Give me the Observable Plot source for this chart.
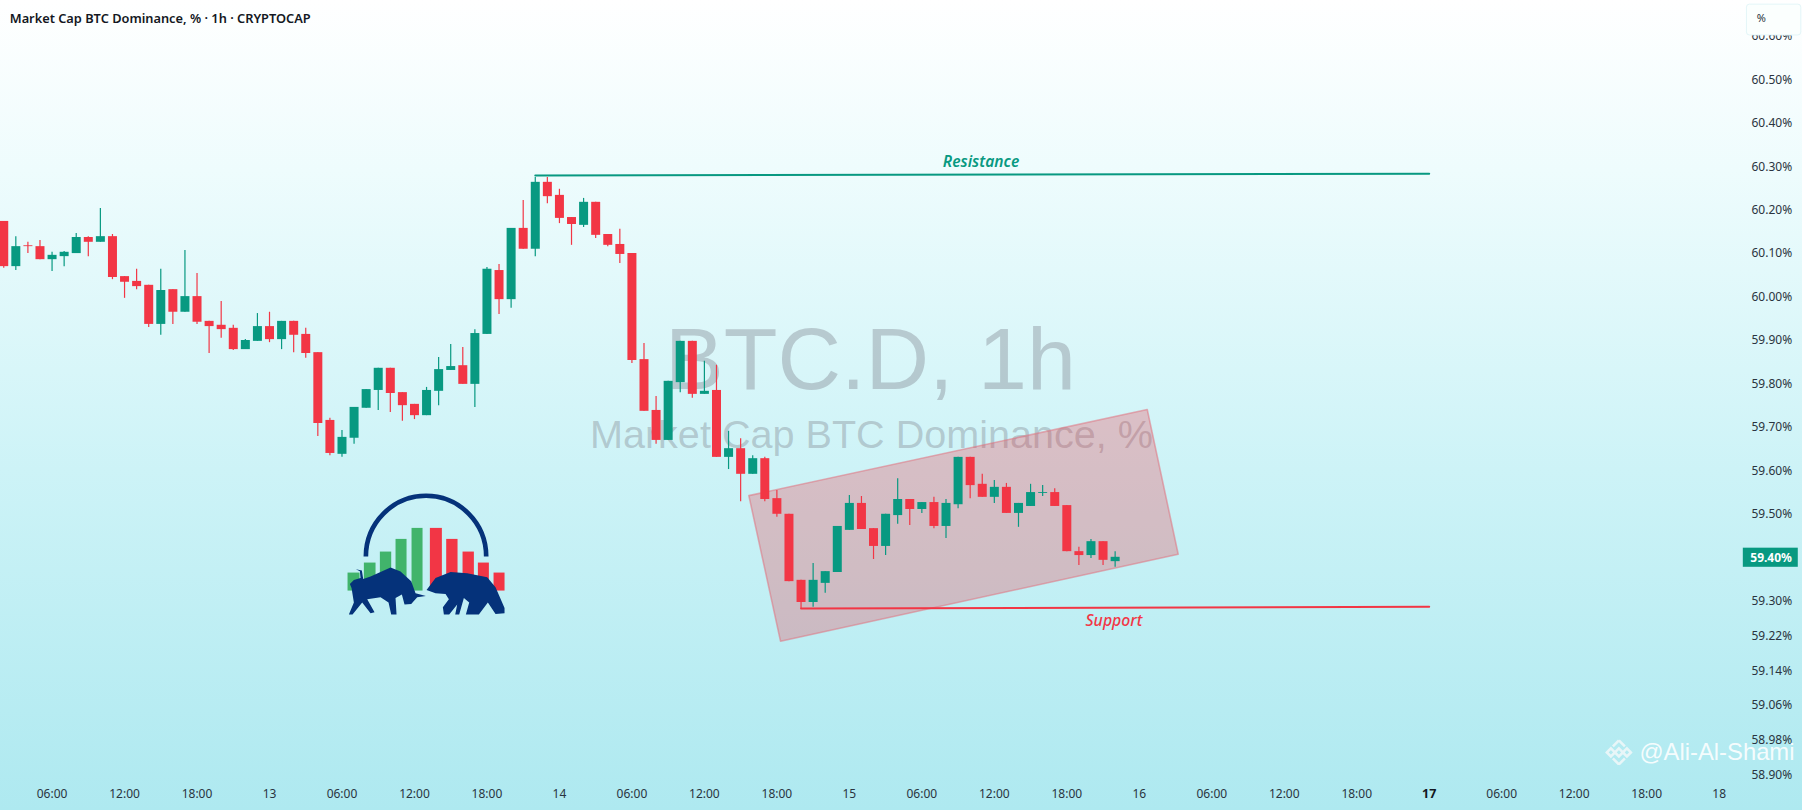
<!DOCTYPE html>
<html>
<head>
<meta charset="utf-8">
<script src="https://cdn.jsdelivr.net/npm/d3@7"></script>
<script src="https://cdn.jsdelivr.net/npm/@observablehq/plot@0.6"></script>
<style>
html,body{margin:0;padding:0;width:1802px;height:810px;overflow:hidden;background:linear-gradient(180deg,#ffffff 0%,#eefcfd 21%,#cdf3f7 58%,#aee9f0 100%);}
#chart{position:absolute;left:0;top:0;}
</style>
</head>
<body>
<div id="chart"></div>
<script>
const opens=[60.174,60.070,60.118,60.116,60.086,60.093,60.100,60.137,60.126,60.139,60.047,60.036,60.027,59.937,60.017,59.965,60.001,59.944,59.935,59.928,59.879,59.898,59.932,59.902,59.944,59.914,59.872,59.716,59.638,59.675,59.744,59.785,59.836,59.780,59.753,59.727,59.783,59.831,59.842,59.799,59.914,60.061,59.994,60.158,60.110,60.264,60.234,60.183,60.165,60.218,60.144,60.121,60.100,59.856,59.739,59.670,59.803,59.898,59.776,59.785,59.631,59.651,59.592,59.628,59.536,59.500,59.348,59.297,59.341,59.366,59.463,59.525,59.467,59.426,59.497,59.534,59.511,59.527,59.472,59.522,59.631,59.569,59.539,59.562,59.502,59.518,59.548,59.550,59.520,59.414,59.405,59.437,59.391];
const highs=[60.174,60.139,60.126,60.130,60.103,60.105,60.146,60.139,60.204,60.144,60.047,60.064,60.027,60.064,60.017,60.107,60.054,59.944,59.990,59.935,59.902,59.962,59.965,59.944,59.944,59.928,59.872,59.721,59.693,59.746,59.787,59.836,59.836,59.780,59.753,59.792,59.861,59.891,59.884,59.925,60.068,60.075,60.158,60.222,60.275,60.275,60.248,60.183,60.227,60.218,60.144,60.156,60.100,59.893,59.771,59.806,59.898,59.898,59.852,59.843,59.691,59.674,59.635,59.631,59.555,59.500,59.348,59.387,59.368,59.472,59.543,59.541,59.467,59.500,59.582,59.534,59.527,59.539,59.534,59.631,59.631,59.592,59.578,59.571,59.525,59.569,59.566,59.559,59.520,59.424,59.442,59.437,59.414];
const lows=[60.066,60.061,60.100,60.086,60.059,60.070,60.100,60.093,60.126,60.040,59.997,60.017,59.930,59.912,59.937,59.965,59.937,59.870,59.905,59.877,59.879,59.898,59.895,59.879,59.872,59.859,59.679,59.635,59.631,59.661,59.744,59.739,59.734,59.714,59.718,59.727,59.750,59.831,59.799,59.746,59.914,59.960,59.974,60.110,60.093,60.215,60.169,60.119,60.160,60.135,60.116,60.077,59.847,59.737,59.661,59.670,59.780,59.767,59.776,59.631,59.603,59.529,59.592,59.529,59.493,59.345,59.283,59.286,59.318,59.366,59.463,59.465,59.396,59.405,59.477,59.474,59.502,59.467,59.444,59.513,59.536,59.539,59.525,59.502,59.470,59.518,59.541,59.518,59.414,59.382,59.398,59.382,59.378];
const closes=[60.070,60.116,60.116,60.086,60.096,60.103,60.137,60.126,60.139,60.045,60.034,60.024,59.937,60.015,59.965,60.001,59.942,59.932,59.925,59.879,59.900,59.932,59.902,59.944,59.912,59.870,59.709,59.640,59.677,59.746,59.787,59.836,59.778,59.750,59.727,59.785,59.833,59.840,59.799,59.916,60.064,59.994,60.158,60.110,60.264,60.231,60.181,60.167,60.218,60.142,60.119,60.098,59.854,59.737,59.670,59.806,59.898,59.776,59.783,59.631,59.651,59.592,59.628,59.534,59.500,59.345,59.297,59.348,59.368,59.472,59.525,59.465,59.426,59.500,59.534,59.511,59.527,59.472,59.525,59.631,59.566,59.539,59.562,59.502,59.525,59.550,59.550,59.518,59.414,59.405,59.437,59.394,59.401];

const priceTicks=[60.60,60.50,60.40,60.30,60.20,60.10,60.00,59.90,59.80,59.70,59.60,59.50,59.30,59.22,59.14,59.06,58.98,58.90];
const hourTicks=[-18,-12,-6,6,12,18,30,36,42,54,60,66,78,84,90,102,108,114];
const dayTicks=[0,24,48,72,120];
const dayLabels=["13","14","15","16","18"];
const boldDayTick=[96], boldDayLabel=["17"];
const resistanceHours=[22,96], resistancePrices=[60.280,60.284];
const supportHours=[44,96], supportPrices=[59.283,59.287];
const channelHours=[39.68,72.66,75.22,42.30], channelPrices=[59.543,59.741,59.408,59.208];
const lastPrice=59.40;
const firstHour=-22;

const base=Date.UTC(2025,0,13);
const at=h=>new Date(base+h*3600000);
const candles=opens.map((o,i)=>({t:at(firstHour+i),o,h:highs[i],l:lows[i],c:closes[i],col:closes[i]>=o?"#089981":"#f23645"}));
const line=(hs,ps)=>hs.map((h,i)=>({t:at(h),p:ps[i]}));

const logoSvg=`<svg xmlns="http://www.w3.org/2000/svg" viewBox="0 0 660 510" width="660" height="510">
<g fill="#41b46b"><rect x="81" y="306" width="36" height="54"/><rect x="130" y="276" width="35" height="84"/><rect x="178" y="243" width="34" height="117"/><rect x="225" y="205" width="33" height="155"/><rect x="273" y="172" width="33" height="188"/></g>
<g fill="#f23645"><rect x="328" y="172" width="36" height="188"/><rect x="377" y="205" width="34" height="155"/><rect x="426" y="243" width="34" height="117"/><rect x="472" y="276" width="33" height="84"/><rect x="519" y="306" width="33" height="54"/></g>
<path d="M136 258 A180 182 0 0 1 497 258" fill="none" stroke="#05327a" stroke-width="14"/>
<g fill="#05327a"><path d="M85 432 L100 396 L93 352 L88 340 L100 328 L120 322 L118 302 L106 296 L124 300 L128 325 L150 318 L210 291 L240 303 L272 332 L285 368 L316 376 L290 380 L272 400 L252 402 L244 372 L225 382 L228 432 L212 432 L204 396 L180 380 L140 386 L162 425 L150 428 L125 396 L96 432 Z"/>
<path d="M318 358 L345 322 L390 304 L440 308 L500 320 L525 350 L552 412 L552 428 L525 430 L502 396 L475 432 L436 432 L446 396 L430 382 L416 432 L404 432 L410 402 L386 432 L370 432 L367 410 L385 386 L375 370 L345 368 Z"/></g></svg>`;
const diamondSvg=`<svg xmlns="http://www.w3.org/2000/svg" viewBox="0 0 28 28" width="28" height="28"><g fill="none" stroke="#e8f6f8" stroke-width="2.6" stroke-linejoin="miter"><path d="M14 2 L20 8 M14 2 L8 8"/><path d="M2 14 L6 10 L10 14 L6 18 Z"/><path d="M18 14 L22 10 L26 14 L22 18 Z"/><path d="M14 10 L18 14 L14 18 L10 14 Z"/><path d="M14 26 L20 20 M14 26 L8 20"/></g></svg>`;
const uri=s=>"data:image/svg+xml;charset=utf-8,"+encodeURIComponent(s);

const plot=Plot.plot({
  width:1802,height:810,marginTop:0,marginLeft:0,marginRight:61,marginBottom:28,
  style:{background:"transparent",fontFamily:"'Noto Sans',sans-serif",overflow:"visible"},
  x:{type:"utc",domain:[at(-22.268),at(121.85)],label:null},
  y:{domain:[58.8827,60.6825],label:null},
  marks:[
    Plot.text([{t:at(49.75),p:59.854}],{x:"t",y:"p",text:()=>"BTC.D, 1h",fontSize:88,fontFamily:"'Liberation Sans',Arial,sans-serif",fill:"#787b86",fillOpacity:0.36}),
    Plot.text([{t:at(49.83),p:59.681}],{x:"t",y:"p",text:()=>"Market Cap BTC Dominance, %",fontSize:39.6,fontFamily:"'Liberation Sans',Arial,sans-serif",fill:"#787b86",fillOpacity:0.36}),
    Plot.image([{t:at(13.33),p:59.405}],{x:"t",y:"p",src:()=>uri(logoSvg),width:220,height:170}),
    Plot.line(line(channelHours,channelPrices),{x:"t",y:"p",curve:"linear-closed",fill:"#f22f3e",fillOpacity:0.27,stroke:"#e0737f",strokeOpacity:0.55,strokeWidth:1.6}),
    Plot.line(line(resistanceHours,resistancePrices),{x:"t",y:"p",stroke:"#089981",strokeWidth:2}),
    Plot.line(line(supportHours,supportPrices),{x:"t",y:"p",stroke:"#f23645",strokeWidth:2}),
    Plot.text([{t:at(58.9),p:60.310}],{x:"t",y:"p",text:()=>"Resistance",fontSize:15.6,fontStyle:"italic",fontWeight:600,fill:"#089981"}),
    Plot.text([{t:at(69.9),p:59.255}],{x:"t",y:"p",text:()=>"Support",fontSize:15.8,fontStyle:"italic",fontWeight:500,fill:"#f23645"}),
    Plot.ruleX(candles,{x:"t",y1:"l",y2:"h",stroke:"col",strokeWidth:1.2}),
    Plot.ruleX(candles,{x:"t",y1:"o",y2:"c",stroke:"col",strokeWidth:9}),
    Plot.axisY({anchor:"right",ticks:priceTicks,tickFormat:d=>d.toFixed(2)+"%",tickSize:0,tickPadding:10,textAnchor:"start",fontSize:12,color:"#2a3440",label:null}),
    Plot.axisX({anchor:"bottom",ticks:hourTicks.map(at),tickFormat:d=>d3.utcFormat("%H:%M")(d),tickSize:0,tickPadding:7,fontSize:12,color:"#2a3440",label:null}),
    Plot.axisX({anchor:"bottom",ticks:dayTicks.map(at),tickFormat:d=>dayLabels[dayTicks.indexOf((d-base)/3600000)],tickSize:0,tickPadding:7,fontSize:12,color:"#2a3440",label:null}),
    Plot.axisX({anchor:"bottom",ticks:boldDayTick.map(at),tickFormat:()=>boldDayLabel[0],tickSize:0,tickPadding:7,fontSize:12.5,fontWeight:700,color:"#131722",label:null}),
    Plot.rect([{t1:at(122),t2:at(126.55),p1:lastPrice-0.022,p2:lastPrice+0.022}],{x1:"t1",x2:"t2",y1:"p1",y2:"p2",fill:"#089981"}),
    Plot.text([{t:at(124.3),p:lastPrice}],{x:"t",y:"p",text:d=>d.p.toFixed(2)+"%",fill:"#fff",fontSize:12,fontWeight:700}),
    Plot.rect([{t1:at(122.3),t2:at(126.8),p1:60.602,p2:60.673}],{x1:"t1",x2:"t2",y1:"p1",y2:"p2",fill:"#fbfffe",stroke:"#e3f6f8",rx:3}),
    Plot.text([{t:at(123.5),p:60.641}],{x:"t",y:"p",text:()=>"%",fontSize:11,fill:"#2a3440"}),
    Plot.text([{t:at(-22),p:60.64}],{x:"t",y:"p",dx:6,text:()=>"Market Cap BTC Dominance, % · 1h · CRYPTOCAP",textAnchor:"start",fontSize:12.8,fontWeight:600,fill:"#131722"}),
    Plot.image([{t:at(111.7),p:58.952}],{x:"t",y:"p",src:()=>uri(diamondSvg),width:28,height:28}),
    Plot.text([{t:at(113.4),p:58.952}],{x:"t",y:"p",text:()=>"@Ali-Al-Shami",textAnchor:"start",fontSize:23.8,fontFamily:"'Liberation Sans',Arial,sans-serif",fill:"#ffffff",fillOpacity:0.88})
  ]
});
document.getElementById("chart").appendChild(plot);
</script>
</body>
</html>
